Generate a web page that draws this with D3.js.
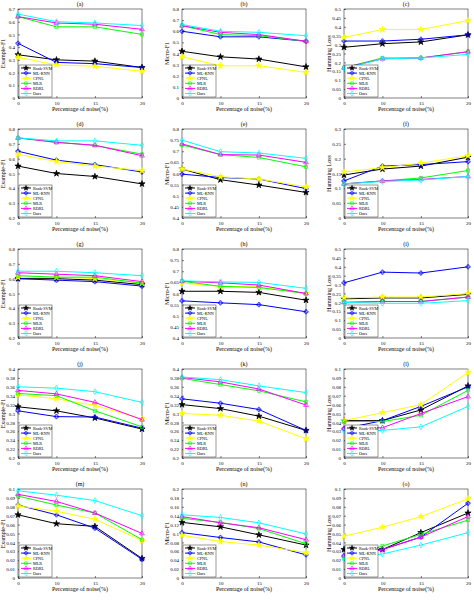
<!DOCTYPE html>
<html lang="en">
<head>
<meta charset="UTF-8">
<script src="https://d3js.org/d3.v7.min.js"></script>
<style>
  body { margin: 0; background: #fff; }
  text { font-family: "Liberation Serif", serif; }
</style>
</head>
<body>
<script>
const w = 474, h = 604;
const noise = [0, 10, 15, 20];
const methods = ["Rank-SVM", "ML-KNN", "CPNL", "MLR", "RDRL", "Ours"];
const colours = ["#000000", "#0000ff", "#ffff00", "#00ff00", "#ff00ff", "#00ffff"];
const shapes = [d3.symbolStar, d3.symbolCross, d3.symbolStar, d3.symbolSquare, d3.symbolTriangle, d3.symbolDiamond];
const panelTitles = ["(a)","(b)","(c)","(d)","(e)","(f)","(g)","(h)","(i)","(j)","(k)","(l)","(m)","(n)","(o)"];
const yLabels = ["Example-F1", "Micro-F1", "Hamming Loss"];
// [min, max, step] for each panel
const yRanges = [
  [0,0.7,0.1],[0,0.8,0.1],[0,0.5,0.05],
  [0.2,0.8,0.1],[0.4,0.8,0.05],[0,0.3,0.05],
  [0.2,0.8,0.1],[0.4,0.8,0.05],[0,0.5,0.05],
  [0.2,0.4,0.02],[0.2,0.4,0.02],[0,0.1,0.01],
  [0,0.1,0.01],[0,0.2,0.02],[0,0.1,0.01]
];
// values per panel, per method, at noise 0/10/15/20
const panelA = [[.34,.30,.29,.24],[.43,.28,.27,.24],[.32,.26,.25,.21],[.64,.56,.56,.50],[.64,.59,.58,.54],[.66,.60,.59,.57]];
const panelB = [[.42,.37,.35,.28],[.60,.55,.55,.51],[.37,.29,.29,.23],[.65,.57,.56,.51],[.65,.59,.57,.51],[.66,.60,.59,.56]];
const panelC = [[.285,.305,.315,.355],[.32,.32,.33,.355],[.34,.385,.385,.435],[.17,.225,.225,.26],[.17,.22,.225,.26],[.165,.22,.225,.245]];
const panelD = [[.55,.50,.48,.43],[.65,.59,.56,.51],[.63,.58,.55,.52],[.74,.71,.69,.63],[.74,.71,.69,.62],[.74,.72,.72,.69]];
const panelE = [[.62,.572,.548,.515],[.597,.582,.575,.532],[.62,.585,.575,.54],[.728,.685,.672,.63],[.733,.685,.683,.65],[.75,.698,.692,.668]];
const panelF = [[.145,.165,.175,.205],[.125,.175,.18,.19],[.155,.17,.185,.21],[.115,.125,.135,.16],[.115,.125,.13,.14],[.115,.123,.128,.14]];
const panelG = [[.60,.60,.59,.56],[.60,.59,.58,.55],[.61,.61,.60,.57],[.62,.61,.61,.57],[.64,.63,.62,.58],[.65,.65,.64,.62]];
const panelH = [[.61,.61,.605,.57],[.567,.558,.55,.518],[.647,.632,.63,.60],[.655,.632,.627,.60],[.655,.648,.638,.60],[.657,.652,.65,.623]];
const panelI = [[.22,.225,.225,.245],[.31,.37,.365,.40],[.225,.23,.23,.25],[.20,.205,.205,.23],[.20,.205,.205,.23],[.20,.195,.195,.21]];
const panelJ = [[.315,.306,.29,.265],[.306,.293,.292,.267],[.342,.333,.318,.288],[.345,.34,.306,.27],[.352,.344,.325,.286],[.36,.357,.349,.325]];
const panelK = [[.32,.311,.294,.262],[.333,.323,.309,.262],[.30,.296,.283,.243],[.379,.365,.351,.326],[.381,.371,.355,.319],[.382,.376,.362,.347]];
const panelL = [[.042,.042,.054,.081],[.033,.042,.058,.08],[.042,.051,.06,.096],[.041,.041,.048,.076],[.033,.034,.05,.069],[.03,.031,.035,.058]];
const panelM = [[.071,.061,.058,.022],[.082,.071,.056,.021],[.081,.075,.066,.042],[.092,.082,.073,.043],[.094,.086,.073,.05],[.098,.093,.087,.07]];
const panelN = [[.125,.115,.097,.074],[.102,.091,.081,.052],[.096,.082,.074,.057],[.134,.125,.111,.077],[.138,.124,.113,.086],[.142,.136,.124,.099]];
const panelO = [[.032,.032,.051,.073],[.025,.032,.046,.084],[.047,.057,.069,.089],[.022,.036,.049,.065],[.025,.032,.046,.069],[.021,.027,.037,.051]];
const panels = [panelA,panelB,panelC,panelD,panelE,panelF,panelG,panelH,panelI,panelJ,panelK,panelL,panelM,panelN,panelO];

const colX = [18, 182, 344], plotW = 124;
const rowY = [9, 129, 249, 369, 489], plotH = 89;

const svg = d3.select("body").append("svg").attr("width", w).attr("height", h);

panels.forEach((data, i) => {
  const col = i % 3, row = Math.floor(i / 3);
  const g = svg.append("g").attr("transform", `translate(${colX[col]},${rowY[row]})`);
  const [lo, hi, step] = yRanges[i];
  // noise levels are spaced almost like categories in the original figure
  const x = d3.scaleLinear().domain(noise).range([0, 0.31, 0.62, 1].map(f => f * plotW));
  const y = d3.scaleLinear().domain([lo, hi]).range([plotH, 0]);
  const ticks = d3.range(0, Math.round((hi - lo) / step) + 1).map(k => +(lo + k * step).toFixed(3));

  g.append("rect").attr("width", plotW).attr("height", plotH).attr("fill", "none").attr("stroke", "#000").attr("stroke-width", 0.5);
  const yAxis = g.append("g").call(d3.axisLeft(y).tickValues(ticks).tickSize(-2).tickPadding(3).tickFormat(d => String(d)));
  const xAxis = g.append("g").attr("transform", `translate(0,${plotH})`)
    .call(d3.axisBottom(x).tickValues(noise).tickSize(-2).tickPadding(3).tickFormat(d => d));
  [xAxis, yAxis].forEach(a => {
    a.select(".domain").remove();
    a.selectAll("line").attr("stroke-width", 0.5);
    a.selectAll("text").style("font-size", "5px").style("font-family", "Liberation Serif");
  });
  g.append("text").attr("x", plotW / 2).attr("y", -3).attr("text-anchor", "middle").style("font-size", "6px").text(panelTitles[i]);
  g.append("text").attr("x", plotW / 2).attr("y", plotH + 13).attr("text-anchor", "middle").style("font-size", "6px").text("Percentage of noise(%)");
  g.append("text").attr("transform", `translate(-13,${plotH / 2}) rotate(-90)`).attr("text-anchor", "middle").style("font-size", "6px").text(yLabels[col]);

  const line = d3.line().x((d, j) => x(noise[j])).y(d => y(d));
  data.forEach((vals, m) => {
    g.append("path").attr("d", line(vals)).attr("fill", "none").attr("stroke", colours[m]).attr("stroke-width", 1);
    g.selectAll(null).data(vals).enter().append("path")
      .attr("d", d3.symbol().type(shapes[m]).size(m === 0 || m === 2 ? 12 : 10))
      .attr("transform", (d, j) => `translate(${x(noise[j])},${y(d)})`)
      .attr("fill", m === 0 || m === 2 ? colours[m] : "none")
      .attr("stroke", colours[m]).attr("stroke-width", 0.7);
  });

  // legend
  const lg = g.append("g").attr("transform", `translate(1,${plotH - 33})`);
  lg.append("rect").attr("width", 33).attr("height", 32).attr("fill", "#fff").attr("stroke", "#000").attr("stroke-width", 0.4);
  methods.forEach((name, m) => {
    const yy = 3 + m * 5.1;
    lg.append("line").attr("x1", 2).attr("x2", 12).attr("y1", yy).attr("y2", yy).attr("stroke", colours[m]).attr("stroke-width", 1);
    lg.append("path").attr("d", d3.symbol().type(shapes[m]).size(8)).attr("transform", `translate(7,${yy})`)
      .attr("fill", m === 0 || m === 2 ? colours[m] : "none").attr("stroke", colours[m]).attr("stroke-width", 0.6);
    lg.append("text").attr("x", 14).attr("y", yy + 1.5).style("font-size", "4.2px").text(name);
  });
});
</script>
</body>
</html>
